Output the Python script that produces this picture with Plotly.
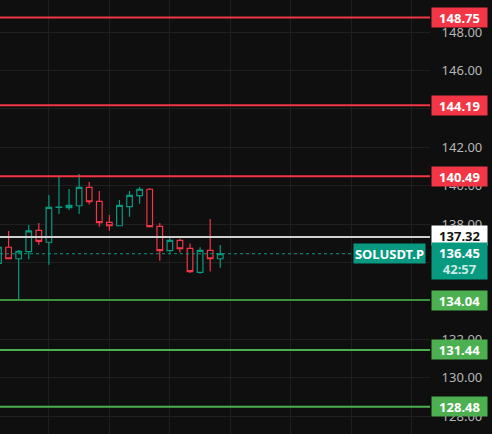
import plotly.graph_objects as go

# ---- data ----
idx = list(range(23))
opens  = [135.95, 136.79, 136.19, 136.56, 137.67, 137.05, 138.86, 138.85, 138.95, 139.91, 139.18, 138.09,
          137.91, 138.90, 139.48, 139.81, 137.88, 136.61, 137.15, 136.73, 135.48, 136.63, 136.19]
highs  = [136.95, 137.64, 136.65, 137.95, 138.05, 139.51, 140.46, 139.82, 140.60, 140.19, 139.72, 138.47,
          139.25, 139.72, 139.93, 139.88, 138.05, 137.36, 137.25, 136.99, 136.79, 138.26, 136.91]
lows   = [135.80, 136.19, 134.08, 136.16, 136.92, 135.88, 138.52, 138.73, 138.52, 139.01, 137.86, 137.65,
          137.91, 138.38, 139.06, 137.86, 136.09, 136.51, 136.51, 135.45, 135.41, 135.52, 135.72]
closes = [136.79, 136.19, 136.58, 137.64, 137.10, 138.87, 138.88, 138.97, 139.91, 139.16, 138.07, 137.91,
          138.97, 139.49, 139.81, 137.86, 136.61, 137.15, 136.71, 135.52, 136.63, 136.19, 136.45]

resistance_levels = [148.75, 144.19, 140.49]
support_levels = [134.04, 131.44, 128.48]
marked_level = 137.32
last_price = 136.45
countdown = "42:57"
symbol = "SOLUSDT.P"
y_ticks = [128, 130, 132, 134, 136, 138, 140, 142, 144, 146, 148]

BG = "#0f0f0f"
GRID = "#1f1f1f"
UP = "#089981"
DOWN = "#f23645"
SUP = "#4caf50"
FONT = "Noto Sans"

fig = go.Figure()
fig.add_trace(go.Candlestick(
    x=idx, open=opens, high=highs, low=lows, close=closes,
    increasing=dict(line=dict(color=UP, width=1.2), fillcolor=BG),
    decreasing=dict(line=dict(color=DOWN, width=1.2), fillcolor=BG),
    whiskerwidth=0, showlegend=False, hoverinfo="skip",
))

shapes = []
for lv in resistance_levels:
    shapes.append(dict(type="line", xref="paper", x0=0, x1=1, yref="y", y0=lv, y1=lv,
                       line=dict(color=DOWN, width=2), layer="above"))
for k, lv in enumerate(support_levels):
    shapes.append(dict(type="line", xref="paper", x0=0, x1=1, yref="y", y0=lv, y1=lv,
                       line=dict(color="#3f9142" if k == 0 else SUP, width=2), layer="above"))
shapes.append(dict(type="line", xref="paper", x0=0, x1=1, yref="y", y0=marked_level, y1=marked_level,
                   line=dict(color="#d0d0d0", width=2), layer="above"))
shapes.append(dict(type="line", xref="paper", x0=0, x1=357 / 430, yref="y", y0=last_price, y1=last_price,
                   line=dict(color=UP, width=1, dash="dot"), layer="above"))

ann = []
def label(y, text, bg, fg="white", h=17, yshift=0):
    ann.append(dict(x=1, xref="paper", xanchor="left", xshift=1, y=y, yref="y", yanchor="middle",
                    yshift=yshift, text=text, showarrow=False, bgcolor=bg, width=53, height=h,
                    align="center", font=dict(family=FONT, size=13, color=fg, weight="bold")))

for lv in resistance_levels:
    label(lv, f"{lv:.2f}", DOWN)
for lv in support_levels:
    label(lv, f"{lv:.2f}", SUP)
label(marked_level, f"{marked_level:.2f}", "#ffffff", fg="#131313", yshift=2)
label(last_price, f"{last_price:.2f}<br><span style='color:#c8ebe4'>{countdown}</span>", UP, h=34, yshift=-7)
ann.append(dict(x=426 / 430, xref="paper", xanchor="right", y=last_price, yref="y", yanchor="middle",
                text=symbol, showarrow=False, bgcolor=UP, width=69, height=17,
                font=dict(family=FONT, size=13, color="white", weight="bold")))

fig.update_layout(
    width=492, height=434,
    margin=dict(l=0, r=62, t=0, b=0, pad=0),
    paper_bgcolor=BG, plot_bgcolor=BG,
    boxgap=0.44, boxgroupgap=0,
    shapes=shapes, annotations=ann,
    showlegend=False,
    xaxis=dict(range=[1.5 / 10.08, 1.5 / 10.08 + 430 / 10.08], rangeslider=dict(visible=False),
               tickvals=[5, 11, 17, 23, 29, 35, 41], showticklabels=False, gridcolor=GRID,
               gridwidth=1, zeroline=False, showline=False, ticks=""),
    yaxis=dict(side="right", range=[127.0625, 149.667], tickvals=y_ticks, tickformat=".2f",
               gridcolor=GRID, gridwidth=1, zeroline=False, showline=False,
               ticks="outside", ticklen=8, tickcolor="rgba(0,0,0,0)",
               tickfont=dict(family=FONT, size=13, color="#b5b5b5")),
)

fig.write_html("out.html", config={"displayModeBar": False},
               post_script="document.body.style.margin='0';document.body.style.background='#0f0f0f';")
